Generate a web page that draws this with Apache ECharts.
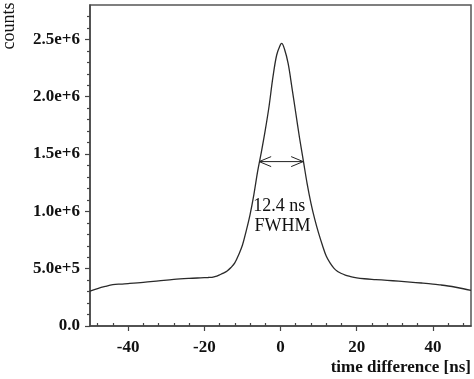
<!DOCTYPE html>
<html>
<head>
<meta charset="utf-8">
<script src="https://cdn.jsdelivr.net/npm/echarts@6/dist/echarts.min.js"></script>
<style>html,body{margin:0;padding:0;background:#fff}#chart{width:474px;height:379px}</style>
</head>
<body>
<div id="chart"></div>
<script>
// time difference [ns]
const xValues = [-50,-48,-46,-44,-42,-40,-36,-32,-28,-24,-21,-19,-18,-17,-16,-15,-14,-13,-12,-11,-10,-9,-8,-7,-6,-5,-4,-3,-2,-1,0,0.3,1,2,3,4,5,6,7,8,9,10,11,12,13,14,15,16,17,18,19,20,22,25,28,31,34,37,40,42,44,46,48,50];
// counts
const countValues = [305000,327000,345000,360000,366000,370000,380000,393000,406000,415000,420000,423000,425000,432000,446000,461000,480000,510000,550000,620000,704000,830000,970000,1144000,1348000,1521000,1708000,1917000,2168000,2364000,2455000,2465000,2420000,2290000,2080000,1860000,1640000,1440000,1240000,1070000,930000,810000,705000,610000,550000,505000,476000,458000,444000,434000,426000,419000,412000,405000,398000,391000,383000,375000,366000,358000,349000,338000,325000,310000];

const xMajorTicks = [-40,-20,0,20,40];
const xTickLabels = ['-40','-20','0','20','40'];
const xMinorTicks = [-48,-44,-36,-32,-28,-24,-16,-12,-8,-4,4,8,12,16,24,28,32,36,44,48];
const yMajorTicks = [0,500000,1000000,1500000,2000000,2500000];
const yTickLabels = ['0.0','5.0e+5','1.0e+6','1.5e+6','2.0e+6','2.5e+6'];
const yMinorTicks = [100000,200000,300000,400000,600000,700000,800000,900000,1100000,1200000,1300000,1400000,1600000,1700000,1800000,1900000,2100000,2200000,2300000,2400000,2600000,2700000];

// FWHM annotation: [left x, right x, level]
const fwhmArrow = [[-5.6, 5.95, 1434000]];
const fwhmText = [[-0.3, 1042000, '12.4 ns'], [0.5, 871000, 'FWHM']];

const FONT = '"Liberation Serif", "Times New Roman", serif';
const AX = '#444';

const chart = echarts.init(document.getElementById('chart'), null, {renderer: 'canvas'});
chart.setOption({
  animation: false,
  backgroundColor: '#fff',
  grid: {left: 90, right: 3, top: 5, bottom: 53, show: true, borderColor: '#555', borderWidth: 1.5, backgroundColor: 'transparent'},
  xAxis: [{
    type: 'value', min: -50, max: 50, position: 'bottom',
    axisLine: {show: true, onZero: false, lineStyle: {color: AX, width: 1.5}},
    axisTick: {show: true, length: 5, inside: false, customValues: xMajorTicks, lineStyle: {color: AX, width: 1.2}},
    axisLabel: {show: true, customValues: xMajorTicks, margin: 13, color: '#111', fontFamily: FONT, fontWeight: 'bold', fontSize: 17,
      formatter: function (v) { const i = xMajorTicks.indexOf(v); return i >= 0 ? xTickLabels[i] : ''; }},
    splitLine: {show: false}
  }, {
    type: 'value', min: -50, max: 50, position: 'bottom',
    axisLine: {show: false, onZero: false},
    axisTick: {show: true, length: 3, inside: true, customValues: xMinorTicks, lineStyle: {color: AX, width: 1.2}},
    axisLabel: {show: false},
    splitLine: {show: false}
  }],
  yAxis: [{
    type: 'value', min: 0, max: 2800000, position: 'left',
    axisLine: {show: true, onZero: false, lineStyle: {color: AX, width: 1.5}},
    axisTick: {show: true, length: 5, customValues: yMajorTicks, lineStyle: {color: AX, width: 1.2}},
    axisLabel: {show: true, customValues: yMajorTicks, margin: 10, color: '#111', fontFamily: FONT, fontWeight: 'bold', fontSize: 17,
      formatter: function (v) { const i = yMajorTicks.indexOf(v); return i >= 0 ? yTickLabels[i] : ''; }},
    splitLine: {show: false}
  }, {
    type: 'value', min: 0, max: 2800000, position: 'left',
    axisLine: {show: false, onZero: false},
    axisTick: {show: true, length: 3, customValues: yMinorTicks, lineStyle: {color: AX, width: 1.2}},
    axisLabel: {show: false},
    splitLine: {show: false}
  }],
  series: [{
    type: 'line', xAxisIndex: 0, yAxisIndex: 0,
    data: xValues.map((x, i) => [x, countValues[i]]),
    showSymbol: false, smooth: 0.35,
    lineStyle: {color: '#2a2a2a', width: 1.3}
  }, {
    type: 'custom', xAxisIndex: 0, yAxisIndex: 0,
    data: fwhmArrow,
    encode: {x: [0, 1], y: 2},
    renderItem: function (params, api) {
      const p1 = api.coord([api.value(0), api.value(2)]);
      const p2 = api.coord([api.value(1), api.value(2)]);
      const hl = 12, hw = 5;
      const st = {stroke: '#222', lineWidth: 1, fill: null};
      return {type: 'group', children: [
        {type: 'line', shape: {x1: p1[0], y1: p1[1], x2: p2[0], y2: p2[1]}, style: st},
        {type: 'polyline', shape: {points: [[p1[0] + hl, p1[1] - hw], [p1[0], p1[1]], [p1[0] + hl, p1[1] + hw]]}, style: st},
        {type: 'polyline', shape: {points: [[p2[0] - hl, p2[1] - hw], [p2[0], p2[1]], [p2[0] - hl, p2[1] + hw]]}, style: st}
      ]};
    }
  }, {
    type: 'custom', xAxisIndex: 0, yAxisIndex: 0,
    data: fwhmText,
    encode: {x: 0, y: 1},
    renderItem: function (params, api) {
      const p = api.coord([api.value(0), api.value(1)]);
      return {type: 'text', x: p[0], y: p[1], style: {text: fwhmText[params.dataIndex][2], fill: '#111', font: '18px ' + FONT, align: 'center', verticalAlign: 'middle'}};
    }
  }],
  graphic: [
    {type: 'text', x: 9, y: 26, rotation: Math.PI / 2, style: {text: 'counts', fill: '#111', font: '18px ' + FONT, align: 'center', verticalAlign: 'middle'}},
    {type: 'text', x: 471, y: 368, style: {text: 'time difference [ns]', fill: '#111', font: 'bold 17px ' + FONT, align: 'right', verticalAlign: 'middle'}}
  ]
});
</script>
</body>
</html>
